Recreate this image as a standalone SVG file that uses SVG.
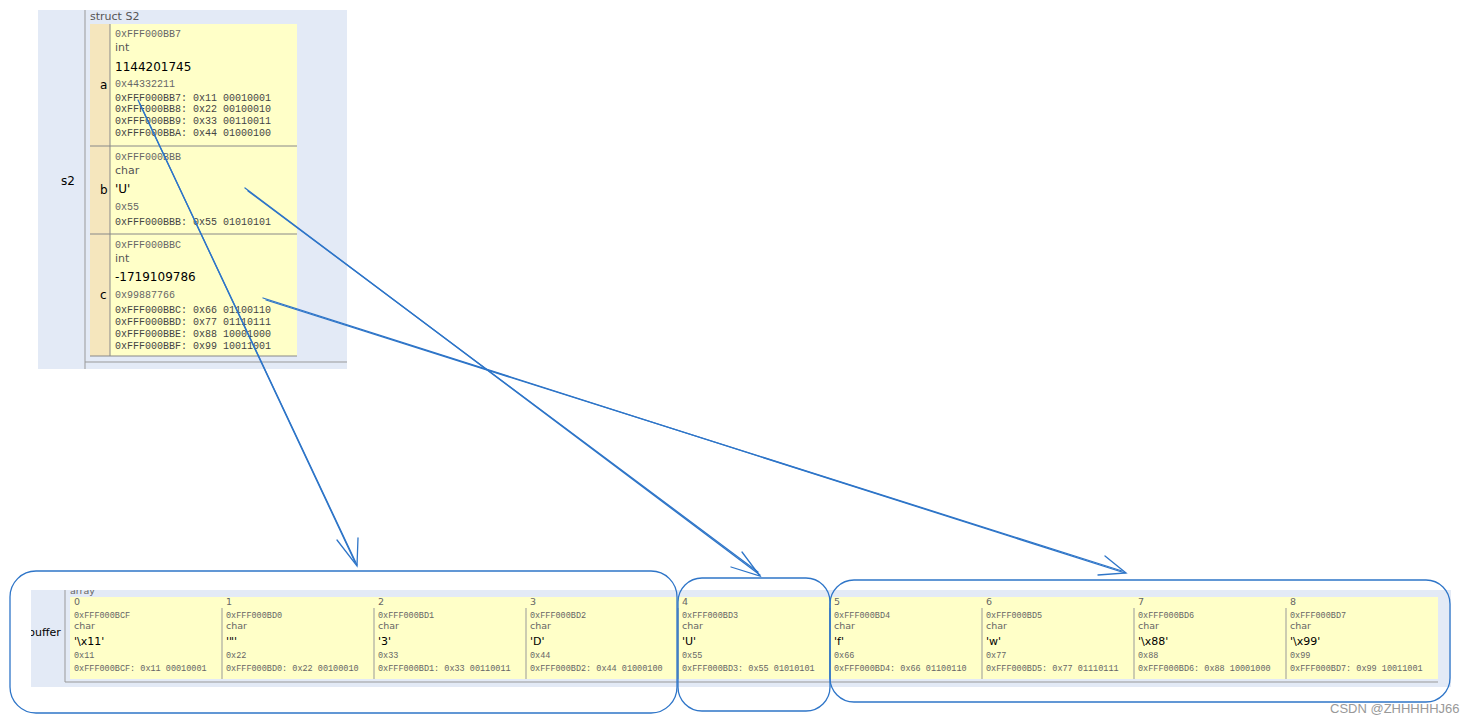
<svg xmlns="http://www.w3.org/2000/svg" width="1481" height="723" viewBox="0 0 1481 723">
<style>
.m{font-family:"Liberation Mono",monospace;font-size:10px;fill:#666}
.mb{font-family:"Liberation Mono",monospace;font-size:10px;fill:#444}
.s{font-family:"DejaVu Sans",sans-serif;font-size:11px;fill:#555}
.v{font-family:"DejaVu Sans",sans-serif;font-size:12px;fill:#000}
.lb{font-family:"DejaVu Sans",sans-serif;font-size:12px;fill:#000}
.sm{font-family:"Liberation Mono",monospace;font-size:8.5px;fill:#666}
.ss{font-family:"DejaVu Sans",sans-serif;font-size:9.5px;fill:#666}
.sv{font-family:"DejaVu Sans",sans-serif;font-size:11px;fill:#000}
.ink{fill:none;stroke:#2e75c8;stroke-width:1.3;stroke-linecap:round}
</style>
<defs><clipPath id="bc"><rect x="31" y="590" width="1420" height="100"/></clipPath></defs>
<rect width="1481" height="723" fill="#fff"/>
<g id="struct">
<rect x="38" y="10" width="309" height="359" fill="#e3eaf6"/>
<line x1="85" y1="10" x2="85" y2="369" stroke="#999"/>
<line x1="85" y1="362" x2="347" y2="362" stroke="#999"/>
<text x="90" y="20" class="s">struct S2</text>
<text x="61" y="185" class="lb">s2</text>
<rect x="90" y="24" width="20" height="332" fill="#f5e6bd"/>
<rect x="110" y="24" width="187" height="332" fill="#ffffc8"/>
<line x1="110" y1="24" x2="110" y2="356" stroke="#888"/>
<line x1="90" y1="146" x2="297" y2="146" stroke="#888"/>
<line x1="90" y1="234" x2="297" y2="234" stroke="#888"/>
<line x1="90" y1="356" x2="297" y2="356" stroke="#888"/>
</g>
<g id="row-a">
<text x="100" y="89" class="lb">a</text>
<text x="115" y="37" class="m">0xFFF000BB7</text>
<text x="115" y="51" class="s">int</text>
<text x="115" y="71" class="v">1144201745</text>
<text x="115" y="87" class="m">0x44332211</text>
<text x="115" y="101" class="mb">0xFFF000BB7: 0x11 00010001</text>
<text x="115" y="112" class="mb">0xFFF000BB8: 0x22 00100010</text>
<text x="115" y="124" class="mb">0xFFF000BB9: 0x33 00110011</text>
<text x="115" y="136" class="mb">0xFFF000BBA: 0x44 01000100</text>
</g>
<g id="row-b">
<text x="100" y="194" class="lb">b</text>
<text x="115" y="160" class="m">0xFFF000BBB</text>
<text x="115" y="174" class="s">char</text>
<text x="115" y="193" class="v">'U'</text>
<text x="115" y="210" class="m">0x55</text>
<text x="115" y="225" class="mb">0xFFF000BBB: 0x55 01010101</text>
</g>
<g id="row-c">
<text x="100" y="299" class="lb">c</text>
<text x="115" y="248" class="m">0xFFF000BBC</text>
<text x="115" y="262" class="s">int</text>
<text x="115" y="281" class="v">-1719109786</text>
<text x="115" y="298" class="m">0x99887766</text>
<text x="115" y="313" class="mb">0xFFF000BBC: 0x66 01100110</text>
<text x="115" y="325" class="mb">0xFFF000BBD: 0x77 01110111</text>
<text x="115" y="337" class="mb">0xFFF000BBE: 0x88 10001000</text>
<text x="115" y="349" class="mb">0xFFF000BBF: 0x99 10011001</text>
</g>
<g id="buffer" clip-path="url(#bc)">
<rect x="31" y="590" width="1420" height="97" fill="#e3eaf6"/>
<text x="28" y="636" class="sv">buffer</text>
<line x1="65" y1="590" x2="65" y2="682" stroke="#999"/>
<line x1="65" y1="682" x2="1438" y2="682" stroke="#999"/>
<text x="70" y="594" class="ss">array</text>
<rect x="70" y="597" width="1368" height="82" fill="#ffffc8"/>
<g stroke="#999"><line x1="222" y1="608" x2="222" y2="679"/><line x1="374" y1="608" x2="374" y2="679"/><line x1="526" y1="608" x2="526" y2="679"/><line x1="678" y1="608" x2="678" y2="679"/><line x1="830" y1="608" x2="830" y2="679"/><line x1="982" y1="608" x2="982" y2="679"/><line x1="1134" y1="608" x2="1134" y2="679"/><line x1="1286" y1="608" x2="1286" y2="679"/></g>
</g>
<g id="cell0"><text x="74" y="605" class="ss">0</text><text x="74" y="618" class="sm">0xFFF000BCF</text><text x="74" y="629" class="ss">char</text><text x="74" y="645" class="sv">'\x11'</text><text x="74" y="658" class="sm">0x11</text><text x="74" y="671" class="sm">0xFFF000BCF: 0x11 00010001</text></g>
<g id="cell1"><text x="226" y="605" class="ss">1</text><text x="226" y="618" class="sm">0xFFF000BD0</text><text x="226" y="629" class="ss">char</text><text x="226" y="645" class="sv">'"'</text><text x="226" y="658" class="sm">0x22</text><text x="226" y="671" class="sm">0xFFF000BD0: 0x22 00100010</text></g>
<g id="cell2"><text x="378" y="605" class="ss">2</text><text x="378" y="618" class="sm">0xFFF000BD1</text><text x="378" y="629" class="ss">char</text><text x="378" y="645" class="sv">'3'</text><text x="378" y="658" class="sm">0x33</text><text x="378" y="671" class="sm">0xFFF000BD1: 0x33 00110011</text></g>
<g id="cell3"><text x="530" y="605" class="ss">3</text><text x="530" y="618" class="sm">0xFFF000BD2</text><text x="530" y="629" class="ss">char</text><text x="530" y="645" class="sv">'D'</text><text x="530" y="658" class="sm">0x44</text><text x="530" y="671" class="sm">0xFFF000BD2: 0x44 01000100</text></g>
<g id="cell4"><text x="682" y="605" class="ss">4</text><text x="682" y="618" class="sm">0xFFF000BD3</text><text x="682" y="629" class="ss">char</text><text x="682" y="645" class="sv">'U'</text><text x="682" y="658" class="sm">0x55</text><text x="682" y="671" class="sm">0xFFF000BD3: 0x55 01010101</text></g>
<g id="cell5"><text x="834" y="605" class="ss">5</text><text x="834" y="618" class="sm">0xFFF000BD4</text><text x="834" y="629" class="ss">char</text><text x="834" y="645" class="sv">'f'</text><text x="834" y="658" class="sm">0x66</text><text x="834" y="671" class="sm">0xFFF000BD4: 0x66 01100110</text></g>
<g id="cell6"><text x="986" y="605" class="ss">6</text><text x="986" y="618" class="sm">0xFFF000BD5</text><text x="986" y="629" class="ss">char</text><text x="986" y="645" class="sv">'w'</text><text x="986" y="658" class="sm">0x77</text><text x="986" y="671" class="sm">0xFFF000BD5: 0x77 01110111</text></g>
<g id="cell7"><text x="1138" y="605" class="ss">7</text><text x="1138" y="618" class="sm">0xFFF000BD6</text><text x="1138" y="629" class="ss">char</text><text x="1138" y="645" class="sv">'\x88'</text><text x="1138" y="658" class="sm">0x88</text><text x="1138" y="671" class="sm">0xFFF000BD6: 0x88 10001000</text></g>
<g id="cell8"><text x="1290" y="605" class="ss">8</text><text x="1290" y="618" class="sm">0xFFF000BD7</text><text x="1290" y="629" class="ss">char</text><text x="1290" y="645" class="sv">'\x99'</text><text x="1290" y="658" class="sm">0x99</text><text x="1290" y="671" class="sm">0xFFF000BD7: 0x99 10011001</text></g>
<g id="connectors" class="ink">
<path d="M138 100 L357 565"/><path d="M140 104 L355 562"/>
<path d="M337 540 L357 566 L358 538"/>
<path d="M245 188 L760 575"/><path d="M248 191 L758 572"/>
<path d="M742 552 L760 576 L731 567"/>
<path d="M263 298 L1125 573"/><path d="M266 300 L1122 571"/>
<path d="M1105 556 L1126 573 L1098 575"/>
<rect x="10" y="571" width="667" height="142" rx="26"/>
<rect x="678" y="578" width="152" height="133" rx="24"/>
<rect x="830" y="580" width="620" height="122" rx="24"/>
</g>
<text x="1330" y="713" font-family="Liberation Sans,sans-serif" font-size="13" fill="#999">CSDN @ZHHHHHJ66</text>
</svg>
